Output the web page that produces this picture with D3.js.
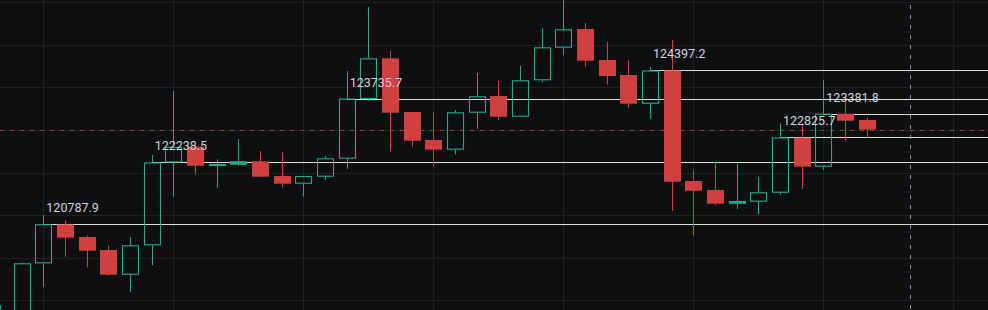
<!DOCTYPE html>
<html>
<head>
<meta charset="utf-8">
<script src="https://cdn.jsdelivr.net/npm/d3@7"></script>
<style>
  html, body { margin: 0; padding: 0; background: #0e0f11; overflow: hidden; }
  svg { display: block; }
  .lvl-label { font-family: Roboto, "Noto Sans", sans-serif; font-size: 12.5px; fill: #d1d4dc; }
</style>
</head>
<body>
<svg id="chart-svg" width="988" height="310"></svg>
<script>
var svg_chart = d3.select("#chart-svg");
var W = 988, H = 310;

// Candles (index 0 = first gridline)
var bar_index = [-2, -1, 0, 1, 2, 3, 4, 5, 6, 7, 8, 9, 10, 11, 12, 13, 14, 15, 16, 17, 18, 19, 20,
                 21, 22, 23, 24, 25, 26, 27, 28, 29, 30, 31, 32, 33, 34, 35, 36, 37, 38];
var opens  = [118300, 118540, 119871, 120782, 120488, 120183, 119603, 120293, 122238.5, 122608, 122162, 122185, 122265, 121920, 121739, 121904, 122326, 123728, 124683, 123423, 122765, 122538, 123406,
              123798, 123312, 124167, 124932, 125371, 124643, 124291, 123617, 124397.2, 121803, 121592, 121270, 121317, 121528, 122819, 122139, 123381.8, 123235];
var highs  = [118890, 119894, 121005, 120887, 120519, 120284, 120488, 122413, 123915, 122624, 122312, 122789, 122507, 122484, 121920, 122390, 124385, 125887, 124854, 123423, 123423, 123469, 124338,
              124150, 124502, 125387, 126169, 125512, 125066, 124643, 124479, 125113, 122061, 122256, 122202, 121890, 123157, 123157, 124174, 123704, 123289];
var lows   = [118070, 118188, 119322, 120026, 119777, 119580, 119204, 119824, 121434, 121960, 121646, 122162, 121904, 121646, 121434, 121819, 122085, 123688, 122477, 122608, 122162, 122430, 123023,
              123228, 123312, 124127, 124754, 124472, 124063, 123516, 123265, 121099, 120519, 121232, 121146, 121021, 121481, 121615, 122068, 122749, 122819];
var closes = [118730, 119871, 120787.9, 120472, 120167, 119603, 120293, 122238.5, 122601, 122162, 122202, 122265, 121904, 121739, 121920, 122336, 123735.7, 124683, 123406, 122749, 122538, 123415, 123791,
              123312, 124167, 124941, 125364, 124627, 124268, 123617, 124397.2, 121786, 121575, 121270, 121333, 121538, 122825.7, 122139, 123381.8, 123218, 123010];

// Horizontal levels
var level_index = [0, 5, 14, 28, 34, 36];
var level_price = [120787.9, 122238.5, 123735.7, 124397.2, 122825.7, 123381.8];

var price_ticks = [119000, 120000, 121000, 122000, 123000, 124000, 125000, 126000];
var time_ticks = [0, 6, 12, 18, 24, 30, 36, 42];
var crosshair_index = 40;

// Colors
var bg = "#0e0f11";
var grid_col = "#1e2023";
var up_col = "#22a98a";
var down_col = "#d04041";
var level_col = "#dcdcdc";

// Scales
var x = d3.scaleLinear().domain([0, 6]).range([43.33, 173.33]);
var y = d3.scaleLinear().domain([119000, 126000]).range([300.4, 2.2]);
var bodyW = 17;

svg_chart.append("rect").attr("width", W).attr("height", H).style("fill", bg);

// Grid
svg_chart.selectAll(".hgrid")
         .data(price_ticks)
         .enter()
         .append("line")
         .attr("x1", 0).attr("x2", W)
         .attr("y1", function(d) { return Math.round(y(d)) + 0.5; })
         .attr("y2", function(d) { return Math.round(y(d)) + 0.5; })
         .style("stroke", grid_col);

svg_chart.selectAll(".vgrid")
         .data(time_ticks)
         .enter()
         .append("line")
         .attr("y1", 0).attr("y2", H)
         .attr("x1", function(d) { return Math.round(x(d)) + 0.5; })
         .attr("x2", function(d) { return Math.round(x(d)) + 0.5; })
         .style("stroke", grid_col);

// Level lines
svg_chart.selectAll(".lvl")
         .data(level_index)
         .enter()
         .append("line")
         .attr("x1", function(d) { return x(d); })
         .attr("x2", W)
         .attr("y1", function(d, i) { return Math.round(y(level_price[i])) + 0.5; })
         .attr("y2", function(d, i) { return Math.round(y(level_price[i])) + 0.5; })
         .style("stroke", level_col)
         .style("stroke-width", 1.2);

// Current price dashed line
var last_close = closes[closes.length - 1];
svg_chart.append("line")
         .attr("x1", 0).attr("x2", W)
         .attr("y1", Math.round(y(last_close)) + 0.5)
         .attr("y2", Math.round(y(last_close)) + 0.5)
         .style("stroke", "#8f3e46")
         .style("stroke-dasharray", "4,6");

// Crosshair vertical
svg_chart.append("line")
         .attr("x1", Math.round(x(crosshair_index)) + 0.5)
         .attr("x2", Math.round(x(crosshair_index)) + 0.5)
         .attr("y1", 5).attr("y2", H)
         .style("stroke", "#8a8e99")
         .style("stroke-dasharray", "4,6");

// Candles
var candles = svg_chart.selectAll(".candle")
         .data(bar_index)
         .enter()
         .append("g")
         .attr("class", "candle");

candles.each(function(d, i) {
  var g = d3.select(this);
  var cx = Math.round(x(d)) + 0.5;
  var o = y(opens[i]), c = y(closes[i]), hi = y(highs[i]), lo = y(lows[i]);
  var up = closes[i] >= opens[i];
  var top = Math.min(o, c), bot = Math.max(o, c);
  var col = up ? up_col : down_col;
  if (up) {
    // hollow body, wick stops at the body
    g.append("line").attr("x1", cx).attr("x2", cx).attr("y1", hi).attr("y2", top).style("stroke", col);
    g.append("line").attr("x1", cx).attr("x2", cx).attr("y1", bot).attr("y2", lo).style("stroke", col);
    var h = Math.max(bot - top - 1, 1);
    g.append("rect")
     .attr("x", cx - bodyW / 2 + 0.5)
     .attr("y", top + 0.5)
     .attr("width", bodyW - 1)
     .attr("height", h)
     .style("fill", h < 3 ? col : "none")
     .style("stroke", col)
     .style("stroke-width", 1.1);
  } else {
    g.append("line").attr("x1", cx).attr("x2", cx).attr("y1", hi).attr("y2", lo).style("stroke", col);
    g.append("rect")
     .attr("x", cx - bodyW / 2)
     .attr("y", top)
     .attr("width", bodyW)
     .attr("height", Math.max(bot - top, 1))
     .style("fill", col);
  }
});

// Level labels
svg_chart.selectAll(".lvl-label")
         .data(level_index)
         .enter()
         .append("text")
         .attr("class", "lvl-label")
         .attr("x", function(d) { return x(d) + 3; })
         .attr("y", function(d, i) { return y(level_price[i]) - 12; })
         .text(function(d, i) { return level_price[i].toFixed(1); });
</script>
</body>
</html>
